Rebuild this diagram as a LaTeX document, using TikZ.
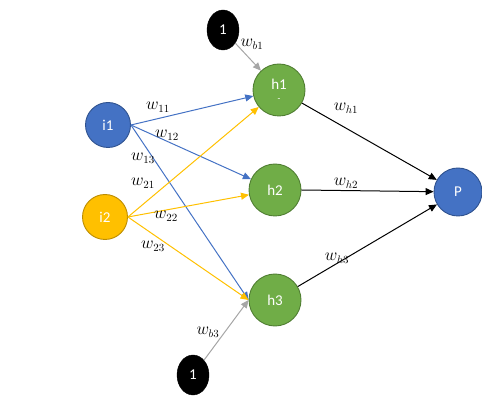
\documentclass[tikz,border=0pt]{standalone}
\usepackage{fontspec}
\setsansfont{Carlito}
\usetikzlibrary{arrows.meta,shapes.geometric}
\definecolor{cblue}{HTML}{4472C4}
\definecolor{cblueb}{HTML}{2F528F}
\definecolor{cgreen}{HTML}{70AD47}
\definecolor{cgreenb}{HTML}{507E32}
\definecolor{cyel}{HTML}{FFC000}
\definecolor{cyelb}{HTML}{BC8C00}
\definecolor{cgray}{HTML}{A6A6A6}
\begin{document}
\begin{tikzpicture}[x=1pt,y=-1pt,
  neuron/.style={circle,minimum size=#1,inner sep=0pt,font=\sffamily\fontsize{15}{16}\selectfont,text=white,line width=0.9pt},
  bias/.style={ellipse,fill=black,draw=black,minimum width=32pt,minimum height=40pt,inner sep=0pt,text=white,font=\sffamily\fontsize{15}{16}\selectfont},
  conn/.style={line width=1pt,-{Triangle[length=8pt,width=7pt]}},
  wl/.style={font=\fontsize{16}{17}\selectfont,inner sep=0pt}
]
\useasboundingbox (0,0) rectangle (482,403);
\node[bias] (b1) at (223,30) {1};
\node[bias] (b3) at (193,375) {1};
\node[neuron=45pt,fill=cblue,draw=cblueb] (i1) at (108,125) {i1};
\node[neuron=45pt,fill=cyel,draw=cyelb] (i2) at (105,217) {i2};
\node[neuron=52pt,fill=cgreen,draw=cgreenb,align=center] (h1) at (279,90) {h1\\[-4pt]{\fontsize{9}{9}\selectfont -}};
\node[neuron=52pt,fill=cgreen,draw=cgreenb] (h2) at (275,190) {h2};
\node[neuron=52pt,fill=cgreen,draw=cgreenb] (h3) at (275,300) {h3};
\node[neuron=48pt,fill=cblue,draw=cblueb] (P) at (458,192) {P};

\draw[conn,cgray] (b1) -- (h1);
\draw[conn,cgray] (b3) -- (h3.west);
\draw[conn,cblue] (i1.east) -- (h1);
\draw[conn,cblue] (i1.east) -- (h2);
\draw[conn,cblue] (i1.east) -- (h3.west);
\draw[conn,cyel] (i2.east) -- (h1);
\draw[conn,cyel] (i2.east) -- (h2);
\draw[conn,cyel] (i2.east) -- (h3.west);
\draw[conn,black] (h1) -- (P);
\draw[conn,black] (h2.east) -- (P);
\draw[conn,black] (h3) -- (P);

\node[wl] (lb1) at (252,44) {$w_{b1}$};
\node[wl] (l11) at (158,107) {$w_{11}$};
\node[wl] (l12) at (167,135) {$w_{12}$};
\node[wl] (l13) at (143,158) {$w_{13}$};
\node[wl] (l21) at (143,183) {$w_{21}$};
\node[wl] (l22) at (166,216) {$w_{22}$};
\node[wl] (l23) at (153,246) {$w_{23}$};
\node[wl] (lb3) at (208,332) {$w_{b3}$};
\node[wl] (lh1) at (346,108) {$w_{h1}$};
\node[wl] (lh2) at (346,183) {$w_{h2}$};
\node[wl] (lh3) at (337,258) {$w_{h3}$};
\end{tikzpicture}
\end{document}
